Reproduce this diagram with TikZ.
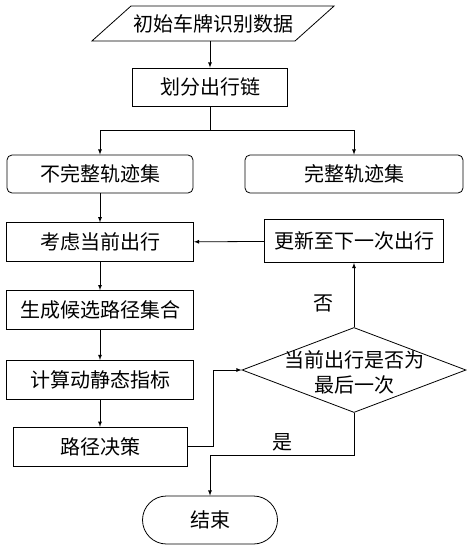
\documentclass[tikz,border=0pt]{standalone}
\usepackage{fontspec}
\setmainfont{Noto Sans CJK SC}
\usetikzlibrary{shapes.geometric, arrows}
\usetikzlibrary{positioning}
\tikzstyle{process} = [rectangle, draw, minimum width=187pt, minimum height=39pt, text centered]
\tikzstyle{trackset} = [rectangle, rounded corners=5pt, draw, minimum height=38pt, text centered]
\tikzstyle{io} = [trapezium, trapezium left angle=30, trapezium right angle=150, trapezium stretches body, minimum width=238pt, minimum height=35pt, inner sep=2pt, draw]
\tikzstyle{decision} = [diamond, minimum width=224pt, minimum height=85pt, inner sep=0pt, draw]
\tikzstyle{terminal} = [rectangle, rounded corners=24pt, minimum width=135pt, minimum height=48pt, draw]

\begin{document}
\begin{tikzpicture}[node distance=28pt, auto, line width=0.8pt, >=latex, font=\fontsize{20pt}{25pt}\selectfont]
  \useasboundingbox (0,0) rectangle (474pt,-551pt);
  \node[io] (data) at (213pt,-23.5pt) {初始车牌识别数据};
  \node[process, minimum width=155pt, minimum height=38pt] (split) at (210pt,-87pt) {划分出行链};
  \node[trackset, minimum width=186pt] (incomp) at (100pt,-174pt) {不完整轨迹集};
  \node[trackset, minimum width=218pt] (comp) at (354pt,-174pt) {完整轨迹集};
  \node[process, below=29pt of incomp] (consider) {考虑当前出行};
  \node[process, below=of consider] (gen) {生成候选路径集合};
  \node[process, below=30pt of gen] (calc) {计算动静态指标};
  \node[process, minimum width=174pt, below=27pt of calc] (decide) {路径决策};
  \node[process, minimum width=179pt, minimum height=43pt] (update) at (354pt,-241pt) {更新至下一次出行};
  \node[decision, label={[align=center, yshift=-2pt]center:当前出行是否为\\最后一次}] (last) at (354pt,-370pt) {};
  \node[terminal] (end) at (210pt,-520pt) {结束};

  \path[->] (data.south -| split) edge (split);
  \draw (split.south) -- ++(0,-24pt) coordinate (fork);
  \draw[->] (fork) -| (incomp.north);
  \draw[->] (fork) -| (comp.north);
  \path[->] (incomp) edge (consider);
  \path[->] (consider) edge (gen);
  \path[->] (gen) edge (calc);
  \path[->] (calc) edge (decide);
  \draw[->] (decide.east) -- ++(26pt,0) |- (last.west);
  \draw[->] (last.north) -- node[left=17pt, pos=0.37] {否} (update.south);
  \path[->] (update) edge (consider);
  \draw[->] (last.south) -- ++(0,-42pt) -| node[pos=0.25, above] {是} (end.north);
\end{tikzpicture}
\end{document}
